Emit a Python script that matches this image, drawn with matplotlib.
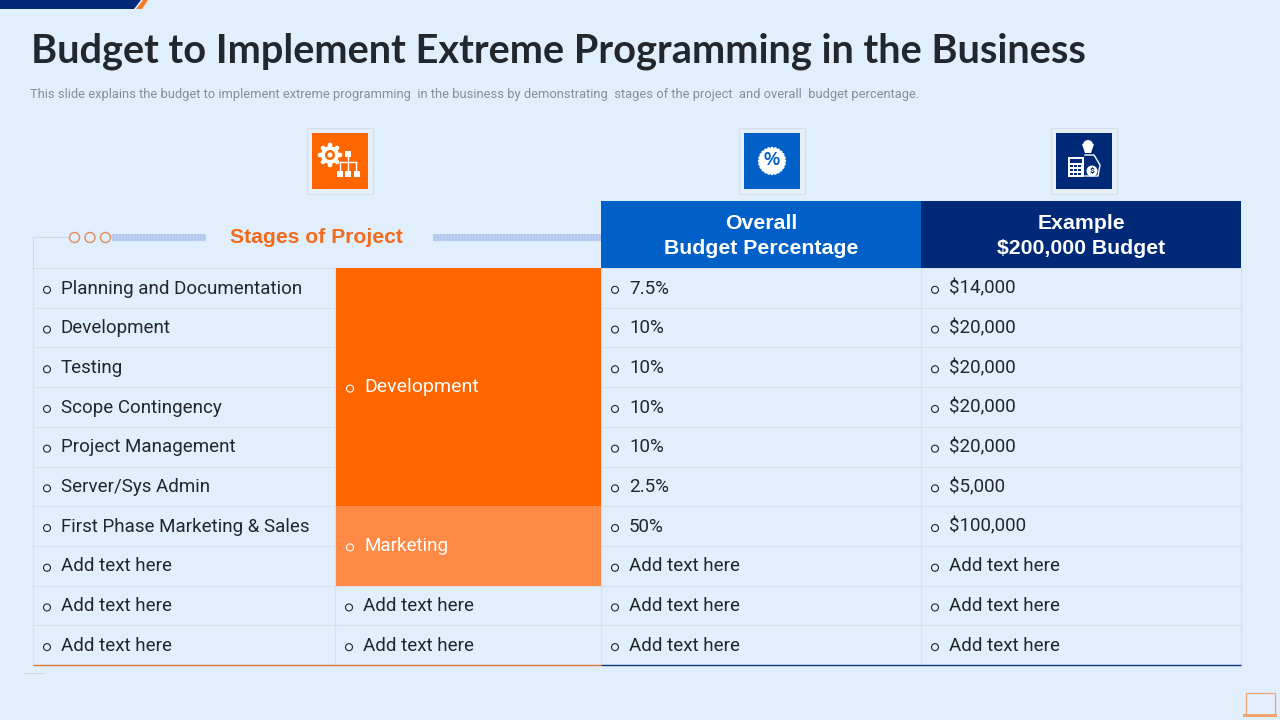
"""Budget table slide drawn in pixel coordinates."""
import math
import matplotlib; matplotlib.use("Agg")
import matplotlib.pyplot as plt
from matplotlib.patches import Rectangle, Circle, Polygon

TITLE = "Budget to Implement Extreme Programming in the Business"
SUB = ("This slide explains the budget to implement extreme programming  in the business "
       "by demonstrating  stages of the project  and overall  budget percentage.")
stages = ["Planning and Documentation", "Development", "Testing", "Scope Contingency",
          "Project Management", "Server/Sys Admin", "First Phase Marketing & Sales",
          "Add text here", "Add text here", "Add text here"]
percent = ["7.5%", "10%", "10%", "10%", "10%", "2.5%", "50%",
           "Add text here", "Add text here", "Add text here"]
budget = ["$14,000", "$20,000", "$20,000", "$20,000", "$20,000", "$5,000", "$100,000",
          "Add text here", "Add text here", "Add text here"]
extra = ["Add text here", "Add text here"]

BG = "#e1effd"; GRID = "#d9e0e8"; INK = "#22272e"
ORANGE = "#ff6600"; ORANGE2 = "#ff8a45"; BLUE = "#0060c8"; NAVY = "#002a78"
plt.rcParams["font.family"] = ["Roboto", "DejaVu Sans"]

fig = plt.figure(figsize=(12.8, 7.2), dpi=100, facecolor=BG)
ax = fig.add_axes([0, 0, 1, 1]); ax.set_xlim(0, 1280); ax.set_ylim(720, 0); ax.axis("off")

def rect(x, y, w, h, c, **kw):
    ax.add_patch(Rectangle((x, y), w, h, fc=c, ec=kw.pop("ec", "none"), **kw))

def item(x, y, s, color=INK, size=13.5):
    # small hollow bullet followed by the cell text
    ax.add_patch(Circle((x, y + 2), 3.5, fc="none", ec=color, lw=0.8, zorder=3))
    ax.text(x + 14, y + 5.7, s, color=color, fontsize=size, va="baseline", ha="left", zorder=3)

# top corner band
ax.add_patch(Polygon([(0, 0), (141, 0), (134, 9), (0, 9)], fc=NAVY, ec="none"))
ax.add_patch(Polygon([(142, 9), (136, 9), (143, 0), (148, 0)], fc="#f47a28", ec="none"))

ax.text(31, 63, TITLE, fontsize=28.6, fontweight="bold", family="Lato", color=INK, va="baseline")
ax.text(30, 98, SUB, fontsize=9.3, color="#858d98", va="baseline")

# grid
xs = [33, 335, 601, 921, 1241]
top, row = 268, 39.7
n = len(stages)
bot = top + row * n
for i in range(n + 1):
    ax.plot([33, 1241], [top + i * row] * 2, color=GRID, lw=0.9, zorder=1)
for x in xs:
    ax.plot([x, x], [top, bot], color=GRID, lw=0.9, zorder=1)
ax.plot([33, 33], [237, top], color="#d0d8e2", lw=0.8, zorder=1)
ax.plot([33, 70], [237, 237], color="#d0d8e2", lw=0.8, zorder=1)

# merged group cells
rect(335.5, top, 265.5, row * 6, ORANGE, zorder=2)
rect(335.5, top + row * 6, 265.5, row * 2, ORANGE2, zorder=2)
item(350, top + row * 3 - 0.5, "Development", "white", 14)
item(350, top + row * 7 - 0.5, "Marketing", "white", 13.5)

for i in range(n):
    y = top + row * (i + 0.5)
    item(47, y, stages[i])
    item(615, y, percent[i])
    item(935, y, budget[i])
for i, s in enumerate(extra):
    item(349, top + row * (8.5 + i), s)

# header cells
rect(601, 201, 320, 67, BLUE, zorder=2)
rect(921, 201, 320, 67, NAVY, zorder=2)
ax.text(761, 236, "Overall\nBudget Percentage", color="white", fontsize=15.3, fontweight="bold",
        family="Liberation Sans", ha="center", va="center", linespacing=1.36, zorder=3)
ax.text(1081, 236, "Example\n$200,000 Budget", color="white", fontsize=15.3, fontweight="bold",
        family="Liberation Sans", ha="center", va="center", linespacing=1.36, zorder=3)
ax.text(316.5, 243, "Stages of Project", color="#f26a1b", fontsize=15.2, fontweight="bold",
        family="Liberation Sans", ha="center", va="baseline")

# bottom rules
ax.plot([33, 601], [bot, bot], color="#e0763a", lw=1, zorder=3, solid_capstyle="butt")
ax.plot([601, 1241], [bot, bot], color="#0c3a78", lw=1, zorder=3, solid_capstyle="butt")
ax.plot([24, 44], [672.5, 672.5], color="#cfd6de", lw=0.8)

# dotted header decoration
for x0, x1 in [(112, 206), (433, 601)]:
    rect(x0, 233.5, x1 - x0, 7, "#b4c9ef", zorder=1)
    for x in range(x0, x1, 3):
        ax.plot([x, x], [233.5, 240.5], color="#c4d5f3", lw=0.5, zorder=1)
for x in [74.5, 90, 105.5]:
    ax.add_patch(Circle((x, 237.5), 5, fc=BG, ec="#e08a55", lw=1, zorder=2))

# icon tiles
for cx, c in [(340, ORANGE), (772, BLUE), (1084, NAVY)]:
    rect(cx - 33, 128, 66, 66, "#e6eef6", ec="#d3dfeb", lw=0.8)
    rect(cx - 28, 133, 56, 56, c)

# gear + org chart
ax.add_patch(Circle((330, 155), 9, fc="white", ec="none"))
for dx, dy in [(0, -10), (0, 10), (-10, 0), (10, 0), (-7, -7), (7, -7), (-7, 7), (7, 7)]:
    ax.add_patch(Circle((330 + dx, 155 + dy), 2.3, fc="white", ec="none"))
ax.add_patch(Circle((330, 155), 5, fc=ORANGE, ec="none"))
ax.add_patch(Circle((330, 155), 2.5, fc="white", ec="none"))
rect(345, 151, 6, 6, "white")
ax.plot([348, 348], [157, 170], color="white", lw=1)
ax.plot([340, 356], [162, 162], color="white", lw=1)
ax.plot([340, 340], [162, 170], color="white", lw=1)
ax.plot([356, 356], [162, 170], color="white", lw=1)
for x in [337, 345, 354]:
    rect(x, 171, 6, 6, "white")

# percent badge
for k in range(24):
    a = 2 * math.pi * k / 24
    ax.add_patch(Circle((772 + 12.5 * math.cos(a), 161 + 12.5 * math.sin(a)), 1.7, fc="white", ec="none"))
ax.add_patch(Circle((772, 161), 12.8, fc="white", ec="none"))
ax.text(772, 160.5, "%", color=BLUE, fontsize=13, fontweight="bold", ha="center", va="center",
        family="Liberation Sans")

# calculator and money bag
rect(1068, 157, 16, 20, "white")
rect(1070, 159, 12, 4, NAVY)
for r in range(3):
    for c in range(3):
        rect(1070 + c * 4.2, 165 + r * 3.8, 2.6, 2.4, NAVY)
ax.add_patch(Polygon([(1082, 144), (1094, 144), (1091, 153), (1085, 153)], fc="white", ec="none"))
ax.add_patch(Circle((1088, 145), 5, fc="white", ec="none"))
ax.plot([1085, 1094, 1100, 1098, 1085], [155, 155, 165, 176, 176], color="white", lw=1)
ax.add_patch(Circle((1092, 171), 5.5, fc="white", ec="none"))
ax.text(1092, 171, "$", color=NAVY, fontsize=6, fontweight="bold", ha="center", va="center")

# laptop mark in the corner
ax.add_patch(Rectangle((1245.5, 693), 29, 22, fc="none", ec="#f0a36e", lw=0.9))
rect(1243, 714, 34, 2.5, "#f0a36e")

fig.savefig("out.png", dpi=100, facecolor=BG)
